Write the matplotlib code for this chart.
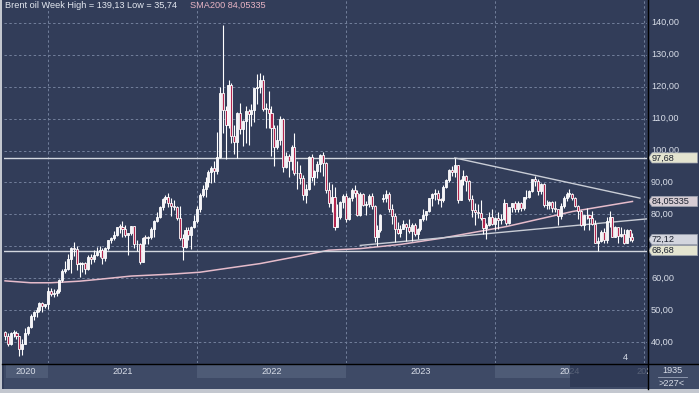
import numpy as np
import matplotlib
matplotlib.use("Agg")
import matplotlib.pyplot as plt
from matplotlib.patches import Rectangle, Polygon

plt.rcParams['font.family'] = ['Liberation Sans', 'DejaVu Sans']

# weekly Brent candles, one week per index, starting week of 21 Sep 2020
open_2020 = [43.2, 41.9, 39.3, 42.9, 42.9, 41.8, 37.9, 39.5, 42.8, 44.9, 48.2, 49.3, 50.0, 52.3, 51.3]
high_2020 = [43.6, 42.9, 43.2, 43.9, 43.4, 41.8, 41.1, 44.3, 45.2, 48.7, 49.9, 50.9, 52.5, 52.5, 52.0]
low_2020 = [40.7, 38.9, 39.1, 41.7, 40.9, 35.74, 36.1, 39.3, 42.3, 44.6, 46.9, 48.0, 49.6, 49.6, 50.7]
close_2020 = [41.9, 39.3, 42.9, 42.9, 41.8, 37.9, 39.5, 42.8, 44.9, 48.2, 49.3, 50.0, 52.3, 51.3, 51.8]

open_2021 = [51.8, 55.99, 55.10, 55.41, 55.88, 59.34, 62.43, 62.91, 66.13, 69.36, 69.22, 64.53, 64.57,
             64.86, 62.95, 66.77, 66.11, 67.25, 68.28, 68.71, 66.44, 69.63, 71.89, 72.69, 73.51, 76.18,
             76.17, 75.55, 73.59, 74.10, 76.33, 70.70, 70.59, 65.18, 72.70, 72.61, 72.92, 75.34, 78.09,
             79.28, 82.39, 84.86, 85.53, 83.72, 82.74, 82.17, 78.89, 72.72, 69.88, 75.15, 73.52, 76.14]
high_2021 = [57.4, 57.0, 56.7, 56.8, 59.8, 62.8, 65.5, 67.7, 69.9, 71.4, 70.0, 65.1, 65.0,
             65.0, 67.3, 67.5, 69.0, 69.8, 70.0, 69.4, 69.8, 72.0, 73.0, 74.9, 76.2, 77.1,
             77.8, 76.6, 74.2, 76.5, 76.4, 72.0, 71.2, 72.8, 73.6, 73.3, 76.0, 78.3, 80.8,
             82.6, 85.1, 86.1, 86.7, 85.0, 84.6, 82.6, 82.5, 73.9, 76.0, 76.1, 76.3, 79.8]
low_2021 = [50.4, 54.4, 54.2, 54.6, 55.3, 58.9, 61.6, 62.7, 61.8, 67.0, 62.7, 60.3, 61.9,
            61.4, 62.6, 64.6, 65.1, 66.9, 66.6, 64.6, 65.5, 69.0, 71.1, 72.0, 73.3, 74.2,
            73.0, 72.8, 67.4, 73.4, 69.6, 68.6, 64.6, 65.0, 70.6, 70.7, 72.3, 73.0, 77.6,
            79.0, 81.5, 83.6, 82.3, 79.6, 81.3, 78.4, 72.1, 65.7, 69.4, 72.0, 69.3, 75.8]
close_2021 = [55.99, 55.10, 55.41, 55.88, 59.34, 62.43, 62.91, 66.13, 69.36, 69.22, 64.53, 64.57, 64.86,
              62.95, 66.77, 66.11, 67.25, 68.28, 68.71, 66.44, 69.63, 71.89, 72.69, 73.51, 76.18, 76.17,
              75.55, 73.59, 74.10, 76.33, 70.70, 70.59, 65.18, 72.70, 72.61, 72.92, 75.34, 78.09, 79.28,
              82.39, 84.86, 85.53, 83.72, 82.74, 82.17, 78.89, 72.72, 69.88, 75.15, 73.52, 76.14, 77.78]

open_2022 = [77.78, 81.75, 86.06, 87.89, 90.03, 93.27, 94.44, 93.54, 97.93, 118.11, 112.67, 107.93, 120.65,
             104.39, 102.78, 111.70, 106.65, 109.34, 112.39, 111.55, 112.55, 119.43, 119.72, 122.01, 113.12, 113.12,
             111.63, 107.02, 101.16, 103.20, 110.01, 94.92, 98.15, 96.72, 100.99, 92.84, 92.84, 91.35, 86.15,
             87.96, 97.92, 91.63, 93.50, 95.77, 98.57, 95.99, 87.62, 83.63, 85.57, 76.10, 79.04, 83.92]
high_2022 = [82.7, 86.7, 89.2, 91.7, 94.0, 95.0, 96.8, 105.8, 119.8, 139.13, 113.9, 122.0, 121.0,
             108.1, 111.9, 114.8, 109.4, 114.0, 113.0, 114.5, 119.5, 124.0, 124.4, 123.7, 115.0, 118.6,
             114.0, 108.0, 108.0, 110.8, 110.2, 99.6, 98.8, 101.6, 105.6, 96.6, 95.6, 92.3, 89.4,
             98.2, 98.8, 93.8, 96.7, 98.9, 99.6, 96.5, 90.0, 89.4, 88.5, 83.3, 84.2, 86.3]
low_2022 = [77.2, 80.6, 85.3, 85.6, 88.7, 89.7, 90.1, 92.6, 97.8, 105.6, 97.4, 107.0, 102.2,
            98.8, 97.6, 105.2, 101.4, 102.2, 101.6, 107.7, 108.9, 114.6, 118.0, 112.5, 107.0, 107.0,
            98.3, 95.0, 100.6, 101.6, 93.2, 94.4, 91.6, 94.0, 92.4, 87.8, 89.6, 84.5, 83.7,
            87.6, 90.6, 89.3, 91.4, 93.3, 92.0, 86.8, 82.4, 80.6, 75.1, 76.0, 78.7, 82.0]
close_2022 = [81.75, 86.06, 87.89, 90.03, 93.27, 94.44, 93.54, 97.93, 118.11, 112.67, 107.93, 120.65, 104.39,
              102.78, 111.70, 106.65, 109.34, 112.39, 111.55, 112.55, 119.43, 119.72, 122.01, 113.12, 113.12, 111.63,
              107.02, 101.16, 103.20, 110.01, 94.92, 98.15, 96.72, 100.99, 92.84, 92.84, 91.35, 86.15, 87.96,
              97.92, 91.63, 93.50, 95.77, 98.57, 95.99, 87.62, 83.63, 85.57, 76.10, 79.04, 83.92, 85.91]

open_2023 = [85.91, 78.57, 85.28, 87.63, 86.66, 79.94, 86.39, 83.00, 83.16, 85.83, 82.78, 72.97, 74.99,
             84.90, 85.12, 86.31, 81.66, 79.54, 75.30, 74.17, 75.58, 76.95, 76.13, 74.79, 76.61, 73.85,
             75.41, 78.47, 79.87, 81.07, 84.99, 86.24, 86.81, 84.80, 84.48, 88.55, 90.65, 93.93, 93.27,
             95.31, 84.58, 90.89, 92.16, 90.48, 84.89, 81.43, 80.61, 80.58, 78.88, 75.84, 76.55, 79.07]
high_2023 = [86.6, 85.4, 88.4, 89.1, 87.5, 86.9, 86.8, 84.2, 86.4, 86.7, 83.0, 76.6, 80.0,
             86.4, 87.5, 86.9, 83.4, 80.4, 77.6, 76.7, 78.4, 77.4, 78.7, 77.3, 77.3, 75.7,
             78.7, 81.8, 81.1, 85.0, 86.6, 88.1, 87.6, 85.0, 89.2, 91.2, 94.3, 95.0, 97.68,
             95.5, 91.0, 93.8, 92.2, 90.8, 86.2, 83.5, 83.3, 84.6, 79.0, 77.3, 80.6, 81.7]
low_2023 = [77.6, 78.4, 84.2, 85.6, 79.4, 79.6, 82.7, 79.8, 82.2, 81.6, 71.4, 70.12, 74.6,
            83.8, 84.0, 80.6, 77.0, 71.4, 73.9, 73.0, 75.5, 71.6, 74.3, 71.6, 73.3, 72.3,
            74.8, 77.8, 78.1, 80.6, 82.6, 84.5, 83.4, 82.3, 84.0, 88.2, 90.0, 92.0, 91.6,
            83.5, 84.5, 89.2, 87.2, 84.2, 79.2, 76.6, 79.0, 78.4, 73.9, 72.3, 76.4, 76.8]
close_2023 = [78.57, 85.28, 87.63, 86.66, 79.94, 86.39, 83.00, 83.16, 85.83, 82.78, 72.97, 74.99, 79.77,
              85.12, 86.31, 81.66, 79.54, 75.30, 74.17, 75.58, 76.95, 76.13, 74.79, 76.61, 73.85, 75.41,
              78.47, 79.87, 81.07, 84.99, 86.24, 86.81, 84.80, 84.48, 88.55, 90.65, 93.93, 93.27, 95.31,
              84.58, 90.89, 92.16, 90.48, 84.89, 81.43, 80.61, 80.58, 78.88, 75.84, 76.55, 79.07, 77.04]

open_2024 = [77.04, 78.76, 78.29, 78.56, 83.55, 77.33, 82.19, 83.47, 81.62, 83.55, 82.08, 85.34, 85.43,
             87.48, 91.17, 90.45, 87.29, 89.50, 82.96, 82.79, 83.98, 82.12, 81.62, 79.62, 82.62, 85.24,
             86.41, 86.54, 85.03, 82.63, 81.13, 76.81, 79.66, 79.68, 79.02, 76.93, 71.06, 71.61, 74.49,
             71.98, 78.05, 79.04, 73.06, 76.05, 73.10, 73.87, 71.04, 75.17, 72.94]
high_2024 = [79.3, 80.8, 80.0, 84.8, 83.6, 82.4, 83.6, 84.2, 84.3, 84.0, 85.6, 87.7, 87.6,
             91.2, 91.9, 91.0, 89.9, 89.7, 84.5, 84.1, 84.2, 84.3, 81.7, 83.5, 85.8, 87.0,
             88.0, 86.7, 85.4, 83.0, 81.4, 79.9, 82.0, 79.9, 81.1, 78.2, 72.8, 75.0, 75.6,
             79.3, 81.16, 79.1, 76.4, 76.2, 76.1, 75.5, 75.3, 75.3, 74.2]
low_2024 = [75.0, 75.3, 77.0, 78.3, 76.6, 76.9, 80.8, 80.6, 80.8, 81.2, 81.3, 84.8, 85.0,
            87.1, 89.0, 86.1, 86.4, 82.4, 81.8, 81.6, 80.9, 80.8, 76.8, 78.5, 82.0, 84.3,
            85.6, 84.5, 82.3, 78.6, 76.3, 75.0, 78.6, 75.1, 76.6, 71.0, 68.68, 71.5, 70.9,
            71.0, 76.0, 72.8, 73.0, 71.0, 72.9, 70.8, 70.9, 71.6, 71.3]
close_2024 = [78.76, 78.29, 78.56, 83.55, 77.33, 82.19, 83.47, 81.62, 83.55, 82.08, 85.34, 85.43, 87.48,
              91.17, 90.45, 87.29, 89.50, 82.96, 82.79, 83.98, 82.12, 81.62, 79.62, 82.62, 85.24, 86.41,
              86.54, 85.03, 82.63, 81.13, 76.81, 79.66, 79.68, 79.02, 76.93, 71.06, 71.61, 74.49, 71.98,
              78.05, 79.04, 73.06, 76.05, 73.10, 73.87, 71.04, 75.17, 72.94, 72.12]

# SMA200 at a few weeks
sma_week = [0, 9, 16, 26, 33, 44, 58, 68, 78, 89, 103, 113, 124, 138, 152, 175, 198, 219]
sma_value = [59.2, 58.6, 58.6, 59.1, 59.7, 60.7, 61.3, 61.9, 63.2, 64.6, 67.0, 68.8, 69.3, 70.6,
             72.5, 76.2, 80.9, 84.05]
sma_last = "84,05335"

# drawn lines: two horizontal levels and the triangle
level_high = 97.68
level_low = 68.68
last_price = 72.12
top_line_week = [157, 221.6]
top_line_price = [97.68, 85.1]
bottom_line_week = [124, 224.1]
bottom_line_price = [70.3, 78.6]

year_start_week = [-15, 15, 67, 119, 171, 223, 275]
year_names = ["2020", "2021", "2022", "2023", "2024", "2025"]
price_ticks = [40, 50, 60, 70, 80, 90, 100, 110, 120, 130, 140]

opens = np.array(open_2020 + open_2021 + open_2022 + open_2023 + open_2024)
highs = np.array(high_2020 + high_2021 + high_2022 + high_2023 + high_2024)
lows = np.array(low_2020 + low_2021 + low_2022 + low_2023 + low_2024)
closes = np.array(close_2020 + close_2021 + close_2022 + close_2023 + close_2024)
weeks = np.arange(len(closes))

W, H = 699, 393
bg = "#323d59"
grid_c = "#73809c"
txt = "#d8dde8"

fig = plt.figure(figsize=(W / 100, H / 100), dpi=100, facecolor="#c3c7cf")


def px_axes(x0, y0, x1, y1):
    return fig.add_axes([x0 / W, 1 - y1 / H, (x1 - x0) / W, (y1 - y0) / H])


# background
back = px_axes(2, 0, W, 389)
back.set_facecolor(bg)
back.set_xticks([])
back.set_yticks([])
for s in back.spines.values():
    s.set_visible(False)

ax = px_axes(4, 0, 647, 363)
ax.set_facecolor(bg)
x0 = -0.36
ax.set_xlim(x0, x0 + 643 / 2.865)
ax.set_ylim(140 - 340.3 / 3.195, 140 + 22.7 / 3.195)
ax.set_xticks([])
ax.set_yticks([])
for s in ax.spines.values():
    s.set_visible(False)

for p in price_ticks:
    ax.axhline(p, color=grid_c, lw=0.7, ls=(0, (2.5, 2.5)), zorder=1)
for w in year_start_week[1:-1]:
    ax.axvline(w, color=grid_c, lw=0.7, ls=(0, (2.5, 2.5)), zorder=1)

ax.plot(sma_week, sma_value, color="#e6bccb", lw=1.1, zorder=2)
ax.axhline(level_high, color="#d3d7df", lw=1.0, zorder=2)
ax.axhline(level_low, color="#d3d7df", lw=1.0, zorder=2)
ax.plot(top_line_week, top_line_price, color="#c9cdd6", lw=1.0, zorder=2)
ax.plot(bottom_line_week, bottom_line_price, color="#c9cdd6", lw=1.0, zorder=2)

up = closes >= opens
ax.vlines(weeks, lows, highs, color="white", lw=0.8, zorder=3)
body_low = np.minimum(opens, closes)
body_h = np.maximum(np.abs(closes - opens), 0.2)
ax.bar(weeks, body_h, bottom=body_low, width=0.72,
       color=np.where(up, "#f4f4f8", "#b3264f"), edgecolor="white", linewidth=0.6, zorder=4)

ax.text(1 / 643, 1 - 5 / 363, "Brent oil Week High = 139,13 Low = 35,74", transform=ax.transAxes,
        color="#e4e8f0", fontsize=6.6, va="center", ha="left", zorder=6)
ax.text(186 / 643, 1 - 5 / 363, "SMA200 " + sma_last, transform=ax.transAxes,
        color="#e8b4c4", fontsize=6.6, va="center", ha="left", zorder=6)
ax.text(619 / 643, 6 / 363, "4", transform=ax.transAxes, color=txt, fontsize=6.6,
        va="center", ha="left", zorder=6)

# right price panel
axr = px_axes(648, 0, W, 363)
axr.set_facecolor(bg)
axr.set_xlim(0, 51)
axr.set_ylim(ax.get_ylim())
axr.set_xticks([])
axr.set_yticks([])
for s in axr.spines.values():
    s.set_visible(False)
for p in price_ticks:
    axr.text(3, p, f"{p:.2f}".replace(".", ","), color=txt, fontsize=6.6, va="center", ha="left")

tags = [(level_high, "97,68", "#e4e4d0"), (84.05335, sma_last, "#d6ccd3"),
        (last_price, "72,12", "#d3d5de"), (level_low, "68,68", "#e4e4d0")]
hh = 1.6
for v, label, fc in tags:
    axr.add_patch(Polygon([(0.5, v), (4, v + hh), (49.5, v + hh), (49.5, v - hh), (4, v - hh)],
                          closed=True, facecolor=fc, edgecolor="#9aa0ae", lw=0.5, zorder=5))
    axr.text(3.8, v, label, color="#1c2230", fontsize=6.6, va="center", ha="left", zorder=6)

# separators
fig.add_artist(plt.Line2D([647.5 / W, 647.5 / W], [1 - 389 / H, 1], color="black", lw=1.0))
fig.add_artist(plt.Line2D([2 / W, 1], [1 - 363.5 / H, 1 - 363.5 / H], color="black", lw=1.0))

# bottom time band
axb = px_axes(4, 364, 647, 389)
axb.set_facecolor("#3e4a66")
axb.set_xlim(ax.get_xlim())
axb.set_ylim(0, 25)
axb.set_xticks([])
axb.set_yticks([])
for s in axb.spines.values():
    s.set_visible(False)
for k in (0, 2, 4):
    a, b = year_start_week[k], year_start_week[k + 1]
    a = max(a, 0.35)
    if k == 4:
        b = 197.2
    axb.add_patch(Rectangle((a, 11), b - a, 14, facecolor="#4e5b76", lw=0, zorder=1))
for k, name in enumerate(year_names):
    a, b = year_start_week[k], year_start_week[k + 1]
    if k == 0:
        a = x0
    mid = (a + b) / 2 if k < 5 else x0 + 643 / 2.865
    axb.text(mid, 18, name, color=txt, fontsize=6.6, ha="center", va="center", zorder=2)
axb.add_patch(Rectangle((197.2, 2), 30, 23, facecolor="#2c3752", alpha=0.75, lw=0, zorder=3))

axc = px_axes(648, 364, W, 389)
axc.set_facecolor("#3e4a66")
axc.set_xlim(0, 51)
axc.set_ylim(0, 25)
axc.set_xticks([])
axc.set_yticks([])
for s in axc.spines.values():
    s.set_visible(False)
axc.text(24, 18.5, "1935", color=txt, fontsize=6.6, ha="center", va="center")
axc.plot([10, 39], [12, 12], color="#9aa3b8", lw=0.6)
axc.text(24, 6, ">227<", color=txt, fontsize=6.6, ha="center", va="center")

fig.savefig("out.png", dpi=100, facecolor=fig.get_facecolor())
